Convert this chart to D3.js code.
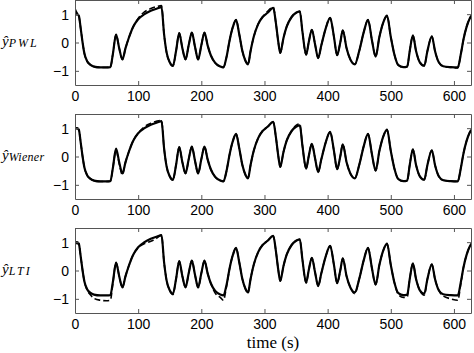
<!DOCTYPE html>
<html>
<head>
<meta charset="utf-8">
<script src="https://cdn.jsdelivr.net/npm/d3@7"></script>
<style>
  body { margin: 0; background: #fff; }
  svg { display: block; }
</style>
</head>
<body>
<svg id="chart"></svg>
<script>
// sample times (s), shared by every series
const time = [
  0, 3, 6, 9, 12, 15, 19, 24, 30, 40, 50, 56, 60, 65, 70, 75, 80, 85, 92, 100,
  110, 120, 130, 137, 141, 145, 150, 155, 160, 165, 170, 175, 180, 185, 190, 195, 200, 205, 210, 215,
  222, 230, 235, 240, 245, 250, 255, 260, 265, 270, 274, 278, 283, 290, 297, 305, 314, 318, 322, 325,
  330, 335, 343, 350, 356, 360, 366, 370, 375, 380, 385, 390, 397, 404, 410, 415, 420, 424, 430, 436,
  443, 450, 457, 464, 470, 476, 482, 488, 494, 500, 506, 512, 520, 526, 530, 535, 540, 546, 553, 558,
  565, 570, 576, 583, 595, 606, 611, 615, 620, 625, 628
];

// measured output (solid)
const measured = [
  0.95, 1.0, 0.95, 0.5, 0.0, -0.4, -0.65, -0.78, -0.85, -0.88, -0.88, -0.87, -0.4, 0.28, -0.2, -0.6, -0.2, 0.15, 0.55, 0.82,
  1.0, 1.12, 1.2, 1.25, 0.3, -0.35, -0.7, -0.83, -0.3, 0.33, -0.2, -0.6, -0.1, 0.35, -0.15, -0.6, -0.1, 0.35, -0.1, -0.45,
  -0.72, -0.85, -0.88, -0.5, 0.1, 0.55, 0.8, 0.3, -0.3, -0.65, -0.77, -0.3, 0.2, 0.65, 0.9, 1.05, 1.22, 0.7, 0.0, -0.37,
  0.15, 0.55, 0.9, 1.05, 1.1, 0.4, -0.43, 0.0, 0.45, -0.05, -0.55, -0.1, 0.5, 0.87, 0.2, -0.45, 0.0, 0.43, -0.2, -0.6,
  -0.77, -0.3, 0.35, 0.8, 0.1, -0.5, 0.2, 0.7, 0.95, 0.2, -0.45, -0.8, -0.87, -0.85, -0.3, 0.25, -0.3, -0.7, -0.82, -0.3,
  0.22, -0.3, -0.7, -0.84, -0.87, -0.88, -0.4, 0.1, 0.55, 0.85, 0.95
];

// model outputs (dashed)
const pwl = [
  1.2, 1.05, 0.95, 0.5, 0.0, -0.4, -0.65, -0.78, -0.85, -0.88, -0.88, -0.87, -0.4, 0.28, -0.2, -0.6, -0.2, 0.15, 0.55, 0.85,
  1.08, 1.2, 1.27, 1.3, 0.3, -0.35, -0.7, -0.83, -0.3, 0.33, -0.2, -0.6, -0.1, 0.35, -0.15, -0.6, -0.1, 0.35, -0.1, -0.45,
  -0.72, -0.85, -0.88, -0.5, 0.1, 0.55, 0.8, 0.3, -0.3, -0.65, -0.77, -0.3, 0.2, 0.65, 0.9, 1.1, 1.25, 0.7, 0.0, -0.37,
  0.15, 0.55, 0.9, 1.05, 1.1, 0.4, -0.43, 0.0, 0.45, -0.05, -0.55, -0.1, 0.5, 0.87, 0.2, -0.45, 0.0, 0.43, -0.2, -0.6,
  -0.77, -0.3, 0.35, 0.8, 0.1, -0.5, 0.2, 0.7, 0.95, 0.2, -0.45, -0.8, -0.87, -0.85, -0.3, 0.25, -0.3, -0.7, -0.82, -0.3,
  0.22, -0.3, -0.7, -0.84, -0.88, -0.9, -0.4, 0.1, 0.55, 0.85, 0.95
];
const wiener = [
  1.0, 1.0, 0.95, 0.5, 0.0, -0.4, -0.65, -0.78, -0.85, -0.88, -0.88, -0.87, -0.4, 0.22, -0.25, -0.65, -0.2, 0.15, 0.55, 0.82,
  1.05, 1.17, 1.25, 1.27, 0.3, -0.35, -0.7, -0.83, -0.3, 0.33, -0.2, -0.6, -0.1, 0.35, -0.15, -0.6, -0.1, 0.35, -0.1, -0.45,
  -0.72, -0.85, -0.88, -0.5, 0.1, 0.55, 0.8, 0.3, -0.3, -0.65, -0.77, -0.3, 0.2, 0.65, 0.9, 1.05, 1.22, 0.7, 0.0, -0.37,
  0.15, 0.55, 0.9, 1.1, 1.15, 0.4, -0.43, 0.0, 0.45, -0.05, -0.55, -0.1, 0.5, 0.87, 0.2, -0.45, 0.0, 0.43, -0.2, -0.6,
  -0.77, -0.3, 0.35, 0.8, 0.1, -0.5, 0.2, 0.7, 0.95, 0.2, -0.45, -0.8, -0.87, -0.85, -0.3, 0.25, -0.3, -0.7, -0.82, -0.3,
  0.22, -0.3, -0.7, -0.84, -0.87, -0.88, -0.4, 0.1, 0.55, 0.85, 0.95
];
const lti = [
  1.0, 0.95, 0.95, 0.5, 0.0, -0.4, -0.68, -0.85, -0.98, -1.05, -1.07, -1.05, -0.45, 0.28, -0.2, -0.6, -0.2, 0.15, 0.55, 0.8,
  0.95, 1.03, 1.15, 1.25, 0.3, -0.35, -0.7, -0.85, -0.3, 0.33, -0.2, -0.6, -0.1, 0.35, -0.15, -0.6, -0.1, 0.35, -0.1, -0.45,
  -0.8, -0.95, -1.05, -0.55, 0.1, 0.55, 0.8, 0.3, -0.3, -0.65, -0.8, -0.3, 0.2, 0.65, 0.9, 1.05, 1.22, 0.7, 0.0, -0.37,
  0.15, 0.55, 0.9, 1.05, 1.1, 0.4, -0.43, 0.0, 0.45, -0.05, -0.55, -0.1, 0.5, 0.87, 0.2, -0.45, 0.0, 0.43, -0.2, -0.6,
  -0.82, -0.3, 0.35, 0.8, 0.1, -0.5, 0.2, 0.7, 0.95, 0.2, -0.45, -0.85, -0.95, -0.93, -0.3, 0.25, -0.3, -0.7, -0.87, -0.3,
  0.22, -0.3, -0.7, -0.9, -1.0, -1.05, -0.45, 0.1, 0.55, 0.85, 0.95
];

const xTicks = [0, 100, 200, 300, 400, 500, 600];
const yTicks = [-1, 0, 1];
const panelLabels = ["PWL", "Wiener", "LTI"];
const panelModels = [pwl, wiener, lti];

const W = 474, H = 353;
const left = 75, right = 471, panelH = 85;
const panelTops = [0, 114, 228];

const svg = d3.select("#chart").attr("width", W).attr("height", H);

const x = d3.scaleLinear().domain([0, 627]).range([left, right]);

panelTops.forEach((top, i) => {
  const y = d3.scaleLinear().domain([-1.5, 1.5]).range([top + panelH, top]);
  const g = svg.append("g");

  const clipId = `clip${i}`;
  svg.append("clipPath").attr("id", clipId)
    .append("rect")
    .attr("x", left).attr("y", top)
    .attr("width", right - left).attr("height", panelH);

  const line = (vals) => d3.line()
    .x((d, k) => x(time[k]))
    .y((d) => y(d))
    .curve(d3.curveMonotoneX)(vals);

  g.append("path")
    .attr("clip-path", `url(#${clipId})`)
    .attr("d", line(measured))
    .attr("fill", "none")
    .attr("stroke", "#000")
    .attr("stroke-width", 2.2)
    .attr("stroke-linejoin", "round");

  g.append("path")
    .attr("clip-path", `url(#${clipId})`)
    .attr("d", line(panelModels[i]))
    .attr("fill", "none")
    .attr("stroke", "#000")
    .attr("stroke-width", 1.6)
    .attr("stroke-dasharray", "6,3");

  // box axes with inward ticks
  const bottomAxis = g.append("g")
    .attr("transform", `translate(0,${top + panelH})`)
    .call(d3.axisBottom(x).tickValues(xTicks).tickSize(-4).tickSizeOuter(0).tickPadding(6));
  g.append("g")
    .attr("transform", `translate(0,${top})`)
    .call(d3.axisTop(x).tickValues(xTicks).tickSize(-4).tickSizeOuter(0).tickFormat(""));
  const leftAxis = g.append("g")
    .attr("transform", `translate(${left},0)`)
    .call(d3.axisLeft(y).tickValues(yTicks).tickSize(-4).tickSizeOuter(0).tickPadding(6)
      .tickFormat((d) => d < 0 ? "\u2212" + Math.abs(d) : d));
  g.append("g")
    .attr("transform", `translate(${right},0)`)
    .call(d3.axisRight(y).tickValues(yTicks).tickSize(-4).tickSizeOuter(0).tickFormat(""));

  g.selectAll(".domain, .tick line").attr("stroke", "#555");
  g.selectAll(".tick text")
    .attr("font-family", "Liberation Sans, Arial, sans-serif")
    .attr("font-size", 14)
    .attr("fill", "#000");
  leftAxis.selectAll(".tick text").attr("dy", "0.36em");

  // y label: y-hat with subscript
  const lab = svg.append("text")
    .attr("x", 2)
    .attr("y", y(0) + 3)
    .attr("font-family", "Liberation Serif, Times New Roman, serif")
    .attr("font-style", "italic");
  lab.append("tspan").attr("font-size", 15).text("\u0177");
  lab.append("tspan")
    .attr("font-size", 12)
    .attr("dy", 1)
    .attr("letter-spacing", panelLabels[i] === "Wiener" ? 0.3 : 2)
    .text(panelLabels[i]);
});

svg.append("text")
  .attr("x", (left + right) / 2)
  .attr("y", 348)
  .attr("text-anchor", "middle")
  .attr("font-family", "Liberation Serif, Times New Roman, serif")
  .attr("font-size", 17)
  .text("time (s)");
</script>
</body>
</html>
